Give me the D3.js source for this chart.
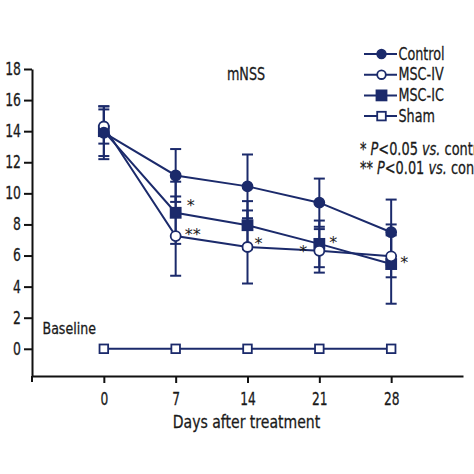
<!DOCTYPE html>
<html>
<head>
<meta charset="utf-8">
<script src="https://cdn.jsdelivr.net/npm/d3@7"></script>
<style>
  body { margin: 0; background: #fff; }
  svg text { font-family: "DejaVu Sans", sans-serif; fill: #1a1a1a; stroke: #1a1a1a; stroke-width: 0.3px; }
</style>
</head>
<body>
<div id="chart"></div>
<script>
// days after treatment
const days = [0, 7, 14, 21, 28];
const yTicks = [0, 2, 4, 6, 8, 10, 12, 14, 16, 18];

// mNSS means and error (SD)
const control = [13.9, 11.15, 10.45, 9.4, 7.5];
const controlErr = [1.7, 1.7, 2.05, 1.55, 2.1];
const mscIV = [14.3, 7.25, 6.55, 6.3, 5.95];
const mscIVErr = [1.1, 2.55, 2.35, 1.4, 1.35];
const mscIC = [14.0, 8.75, 7.95, 6.75, 5.45];
const mscICErr = [1.6, 2.0, 1.55, 1.5, 2.55];
const sham = [0, 0, 0, 0, 0];

// significance marks: day, height on the mNSS scale, text
const markDays = [7, 7, 14, 21, 21, 28];
const markLevels = [9.45, 7.62, 7.0, 6.52, 7.1, 5.78];
const markTexts = ["*", "**", "*", "*", "*", "*"];

const color = "#1b2a6b";
const width = 474, height = 474;

const svg = d3.select("#chart").append("svg")
  .attr("width", width)
  .attr("height", height);

const x = d3.scaleLinear().domain([-7, 35]).range([32, 463]);
const y = d3.scaleLinear().domain([-1.75, 18]).range([376, 69]);

// the original uses a condensed face; squeeze DejaVu horizontally
function label(parent, px, py, str, size, k, anchor) {
  return parent.append("text")
    .attr("transform", `translate(${px},${py}) scale(${k},1)`)
    .attr("text-anchor", anchor || "start")
    .style("font-size", size + "px")
    .text(str);
}

function squeezeTicks(a, k) {
  a.selectAll(".tick text").each(function () {
    const t = d3.select(this);
    const tx = +t.attr("x") || 0, ty = +t.attr("y") || 0;
    t.attr("x", 0).attr("y", 0)
      .attr("transform", `translate(${tx},${ty}) scale(${k},1)`)
      .style("font-size", "17px")
      .attr("fill", "#1a1a1a");
  });
}

// axes
const yAxis = svg.append("g")
  .attr("transform", `translate(${x(-7)},0)`)
  .call(d3.axisLeft(y).tickValues(yTicks).tickSize(8).tickSizeOuter(0).tickPadding(3));
const xAxis = svg.append("g")
  .attr("transform", `translate(0,${y(-1.75)})`)
  .call(d3.axisBottom(x).tickValues(days).tickSize(7).tickSizeOuter(0).tickPadding(10));

[yAxis, xAxis].forEach(a => {
  a.select(".domain").attr("stroke", "#111").attr("stroke-width", 2);
  a.selectAll(".tick line").attr("stroke", "#111").attr("stroke-width", 2);
});
squeezeTicks(yAxis, 0.73);
squeezeTicks(xAxis, 0.72);

// little stub where the y axis runs past the x axis
svg.append("line")
  .attr("x1", x(-7)).attr("x2", x(-7))
  .attr("y1", y(-1.75)).attr("y2", y(-1.75) + 6)
  .attr("stroke", "#111").attr("stroke-width", 2);

label(svg, x(14) - 1, 427.5, "Days after treatment", 18, 0.78, "middle");
label(svg, 246, 79.5, "mNSS", 18, 0.71, "middle");
label(svg, 42.5, 334.3, "Baseline", 15, 0.84);

const series = [
  { name: "Control", values: control, err: controlErr, shape: "circle", fill: color },
  { name: "MSC-IV", values: mscIV, err: mscIVErr, shape: "circle", fill: "#fff" },
  { name: "MSC-IC", values: mscIC, err: mscICErr, shape: "square", fill: color },
  { name: "Sham", values: sham, err: null, shape: "square", fill: "#fff" }
];

const line = d3.line().x((d, i) => x(days[i])).y(d => y(d));

function marker(g, s, cx, cy, small) {
  if (s.shape === "circle") {
    g.append("circle").attr("cx", cx).attr("cy", cy).attr("r", small ? 4.3 : 5)
      .attr("fill", s.fill).attr("stroke", color).attr("stroke-width", 1.8);
  } else {
    const h = s.fill === "#fff" ? 4.3 : 5;
    g.append("rect").attr("x", cx - h).attr("y", cy - h).attr("width", h * 2).attr("height", h * 2)
      .attr("fill", s.fill).attr("stroke", color).attr("stroke-width", 1.8);
  }
}

const plot = svg.append("g");

series.forEach(s => {
  plot.append("path")
    .datum(s.values)
    .attr("d", line)
    .attr("fill", "none")
    .attr("stroke", color)
    .attr("stroke-width", 2);
});

series.filter(s => s.err).forEach(s => {
  s.values.forEach((v, i) => {
    const cx = x(days[i]);
    const lo = y(v - s.err[i]), hi = y(v + s.err[i]);
    plot.append("line").attr("x1", cx).attr("x2", cx).attr("y1", lo).attr("y2", hi)
      .attr("stroke", color).attr("stroke-width", 2);
    [lo, hi].forEach(yy => plot.append("line")
      .attr("x1", cx - 5.5).attr("x2", cx + 5.5).attr("y1", yy).attr("y2", yy)
      .attr("stroke", color).attr("stroke-width", 2));
  });
});

series.slice().reverse().forEach(s => {
  s.values.forEach((v, i) => marker(plot, s, x(days[i]), y(v)));
});

// significance asterisks, nudged sideways off the error bars
const markShift = [15, 17, 11, -16, 14, 13];
markTexts.forEach((t, i) => {
  svg.append("text")
    .attr("x", x(markDays[i]) + markShift[i])
    .attr("y", y(markLevels[i]) + 9.5)
    .attr("text-anchor", "middle")
    .style("font-size", "16px")
    .style("stroke-width", "0px")
    .text(t);
});

// legend
const legend = svg.append("g");
series.forEach((s, i) => {
  const ly = 54 + i * 20.7;
  legend.append("line").attr("x1", 364).attr("x2", 397).attr("y1", ly).attr("y2", ly)
    .attr("stroke", color).attr("stroke-width", 2);
  marker(legend, s, 381.5, ly, true);
  label(legend, 398.5, ly + 5.6, s.name, 18, 0.71);
});

// footnote (runs off the right edge as in the original)
function note(py, stars, p) {
  const t = label(svg, 360, py, "", 17, 0.76);
  t.append("tspan").text(stars + " ");
  t.append("tspan").style("font-style", "italic").text("P");
  t.append("tspan").text("<" + p + " ");
  t.append("tspan").style("font-style", "italic").text("vs.");
  t.append("tspan").text(" control");
}
note(154.7, "*", "0.05");
note(174.2, "**", "0.01");
</script>
</body>
</html>
